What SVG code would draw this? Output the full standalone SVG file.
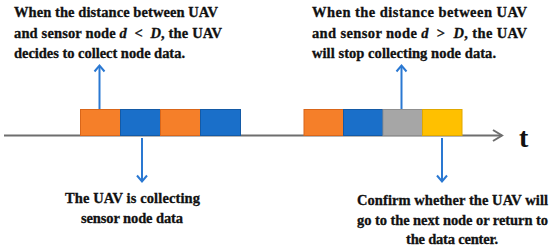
<svg xmlns="http://www.w3.org/2000/svg" width="550" height="249" viewBox="0 0 550 249">
<style>
.t{font-family:'Liberation Serif','Times New Roman',serif;font-weight:bold;font-size:14.5px;fill:#111;stroke:#111;stroke-width:0.3}
.i{font-style:italic}
.ax{stroke:#6e6e6e;stroke-width:2;fill:none}
.arr{stroke:#2a78d2;stroke-width:2;fill:none}
.or{fill:#f57f29;stroke:#d9661a;stroke-width:1}
.bl{fill:#1a6fc9;stroke:#145aa6;stroke-width:1}
.gy{fill:#a6a6a6;stroke:#8f8f8f;stroke-width:1}
.ye{fill:#ffc000;stroke:#e0a800;stroke-width:1}
</style>
<rect width="550" height="249" fill="#ffffff"/>
<g id="axis">
<line class="ax" x1="4" y1="135.5" x2="502" y2="135.5"/>
<polyline class="ax" points="493,130 502,135.5 493,141" stroke-width="1.5"/>
<text x="519" y="147" font-family="'Liberation Serif', serif" font-weight="bold" font-size="28" fill="#111">t</text>
</g>
<g id="slots-left">
<rect class="or" x="80.5" y="109.5" width="40" height="26"/>
<rect class="bl" x="120.5" y="109.5" width="40" height="26"/>
<rect class="or" x="160.5" y="109.5" width="40" height="26"/>
<rect class="bl" x="200.5" y="109.5" width="40" height="26"/>
</g>
<g id="slots-right">
<rect class="or" x="304" y="109.5" width="39.5" height="26"/>
<rect class="bl" x="343.5" y="109.5" width="39.5" height="26"/>
<rect class="gy" x="383" y="109.5" width="39.5" height="26"/>
<rect class="ye" x="422.5" y="109.5" width="39.5" height="26"/>
</g>
<g id="connectors">
<line class="arr" x1="99.5" y1="109" x2="99.5" y2="66"/>
<polyline class="arr" points="94.5,71.5 99.5,65.5 104.5,71.5"/>
<line class="arr" x1="401.5" y1="109" x2="401.5" y2="66"/>
<polyline class="arr" points="396.5,71.5 401.5,65.5 406.5,71.5"/>
<line class="arr" x1="142" y1="138" x2="142" y2="181"/>
<polyline class="arr" points="137,175.5 142,181.5 147,175.5"/>
<line class="arr" x1="442" y1="138" x2="442" y2="181"/>
<polyline class="arr" points="437,175.5 442,181.5 447,175.5"/>
</g>
<g id="label-start">
<text class="t" x="14" y="17" textLength="204" lengthAdjust="spacing">When the distance between UAV</text>
<text class="t" x="14" y="37.5" textLength="208" lengthAdjust="spacing" xml:space="preserve">and sensor node <tspan class="i">d</tspan>  &lt;  <tspan class="i">D</tspan>, the UAV</text>
<text class="t" x="14" y="58" textLength="171" lengthAdjust="spacing">decides to collect node data.</text>
</g>
<g id="label-stop">
<text class="t" x="312" y="17" textLength="215" lengthAdjust="spacing">When the distance between UAV</text>
<text class="t" x="312" y="37.5" textLength="215" lengthAdjust="spacing" xml:space="preserve">and sensor node <tspan class="i">d</tspan>  &gt;  <tspan class="i">D</tspan>, the UAV</text>
<text class="t" x="312" y="58" textLength="184" lengthAdjust="spacing">will stop collecting node data.</text>
</g>
<g id="label-collecting">
<text class="t" x="65" y="203" textLength="135" lengthAdjust="spacing">The UAV is collecting</text>
<text class="t" x="81" y="223" textLength="102" lengthAdjust="spacing">sensor node data</text>
</g>
<g id="label-confirm">
<text class="t" x="357" y="205" textLength="191" lengthAdjust="spacing">Confirm whether the UAV will</text>
<text class="t" x="357" y="225" textLength="191" lengthAdjust="spacing">go to the next node or return to</text>
<text class="t" x="406" y="244" textLength="92" lengthAdjust="spacing">the data center.</text>
</g>
</svg>
